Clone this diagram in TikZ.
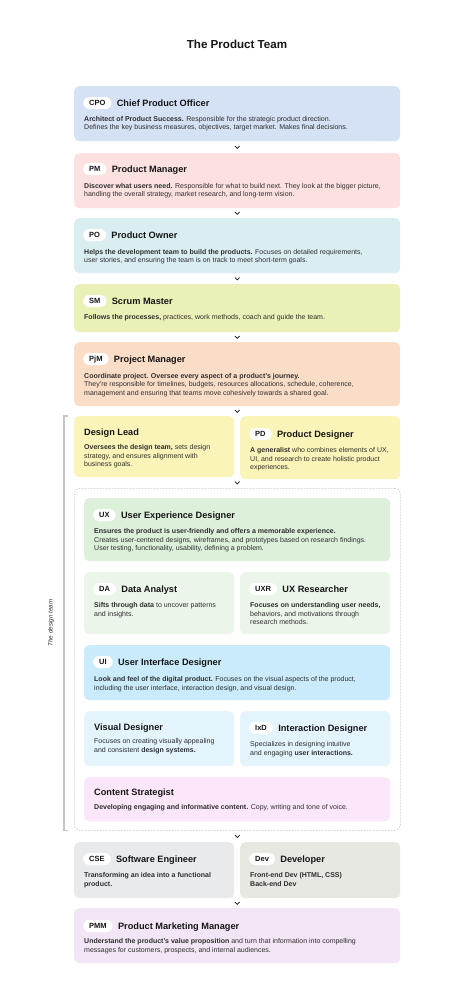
\documentclass[tikz,border=0pt]{standalone}
\usepackage{fontspec}
\setmainfont{Liberation Sans}
\usetikzlibrary{positioning,calc}

\definecolor{cpofill}{HTML}{D5E1F5}
\definecolor{pmfill}{HTML}{FDE1E1}
\definecolor{pofill}{HTML}{DAEDF1}
\definecolor{smfill}{HTML}{EBF0B6}
\definecolor{pjmfill}{HTML}{FADDC7}
\definecolor{dlfill}{HTML}{FBF4B8}
\definecolor{uxfill}{HTML}{DCF0DA}
\definecolor{dafill}{HTML}{EBF5EA}
\definecolor{uifill}{HTML}{C9EBFB}
\definecolor{vdfill}{HTML}{E3F4FC}
\definecolor{csfill}{HTML}{FCE7FA}
\definecolor{csefill}{HTML}{E9EAEC}
\definecolor{devfill}{HTML}{E6E8E1}
\definecolor{pmmfill}{HTML}{F2E6F6}
\definecolor{inkdark}{HTML}{161616}
\definecolor{inksoft}{HTML}{2E2E2E}
\definecolor{rulegray}{HTML}{C4C4C4}

\tikzset{
  card/.style={rounded corners=5pt, anchor=north west, inner sep=0pt, minimum width=#1},
  tag/.style={fill=white, rounded corners=6pt, font=\bfseries\fontsize{7.5}{9}\selectfont, text=inkdark,
    inner xsep=6pt, inner ysep=3.3pt, text height=5.4pt, text depth=0pt},
  heading/.style={font=\bfseries\fontsize{9.2}{11}\selectfont, text=inkdark, inner sep=0pt,
    text height=6.6pt, text depth=0pt},
  blurb/.style={anchor=north west, align=left, inner sep=0pt, font=\fontsize{7}{8.4}\selectfont, text=inksoft},
  chev/.pic={\draw[line width=0.7pt, inkdark] (-2.4,-1.2) -- (0,1.2) -- (2.4,-1.2);}
}

\begin{document}
\begin{tikzpicture}[x=1pt,y=-1pt]
	\fill[white] (0,0) rectangle (474,1001);
	\useasboundingbox (0,0) rectangle (474,1001);
	\node[font=\bfseries\fontsize{11.6}{14}\selectfont, text=inkdark] (head) at (237,44) {The Product Team};

	% chief product officer
	\node[card=326pt, minimum height=55pt, fill=cpofill] (cpo) at (74,86) {};
	\node[tag, anchor=west] (cpotag) at ([xshift=9pt,yshift=-17pt]cpo.north west) {CPO};
	\node[heading, right=5pt of cpotag] (cpottl) {Chief Product Officer};
	\node[blurb] (cpotxt) at ([xshift=10pt,yshift=-30pt]cpo.north west) {\textbf{Architect of Product Success.} Responsible for the strategic product direction.\\Defines the key business measures, objectives, target market. Makes final decisions.};

	% product manager
	\node[card=326pt, minimum height=55pt, fill=pmfill] (pm) at (74,153) {};
	\node[tag, anchor=west] (pmtag) at ([xshift=9pt,yshift=-16pt]pm.north west) {PM};
	\node[heading, right=5pt of pmtag] (pmttl) {Product Manager};
	\node[blurb] (pmtxt) at ([xshift=10pt,yshift=-30pt]pm.north west) {\textbf{Discover what users need.} Responsible for what to build next. They look at the bigger picture,\\handling the overall strategy, market research, and long-term vision.};

	% product owner
	\node[card=326pt, minimum height=55pt, fill=pofill] (po) at (74,218) {};
	\node[tag, anchor=west] (potag) at ([xshift=9pt,yshift=-17pt]po.north west) {PO};
	\node[heading, right=5pt of potag] (pottl) {Product Owner};
	\node[blurb] (potxt) at ([xshift=10pt,yshift=-31pt]po.north west) {\textbf{Helps the development team to build the products.} Focuses on detailed requirements,\\user stories, and ensuring the team is on track to meet short-term goals.};

	% scrum master
	\node[card=326pt, minimum height=48pt, fill=smfill] (sm) at (74,284) {};
	\node[tag, anchor=west] (smtag) at ([xshift=9pt,yshift=-17pt]sm.north west) {SM};
	\node[heading, right=5pt of smtag] (smttl) {Scrum Master};
	\node[blurb] (smtxt) at ([xshift=10pt,yshift=-30.5pt]sm.north west) {\textbf{Follows the processes,} practices, work methods, coach and guide the team.};

	% project manager
	\node[card=326pt, minimum height=64pt, fill=pjmfill] (pjm) at (74,342) {};
	\node[tag, anchor=west] (pjmtag) at ([xshift=9pt,yshift=-17pt]pjm.north west) {PjM};
	\node[heading, right=5pt of pjmtag] (pjmttl) {Project Manager};
	\node[blurb] (pjmtxt) at ([xshift=10pt,yshift=-31pt]pjm.north west) {\textbf{Coordinate project. Oversee every aspect of a product's journey.}\\They're responsible for timelines, budgets, resources allocations, schedule, coherence,\\management and ensuring that teams move cohesively towards a shared goal.};

	% design lead / product designer
	\node[card=160pt, minimum height=61pt, fill=dlfill] (dl) at (74,416) {};
	\node[heading, anchor=west] (dlttl) at ([xshift=10pt,yshift=-16pt]dl.north west) {Design Lead};
	\node[blurb] (dltxt) at ([xshift=10pt,yshift=-28.5pt]dl.north west) {\textbf{Oversees the design team,} sets design\\strategy, and ensures alignment with\\business goals.};
	\node[card=160pt, minimum height=63pt, fill=dlfill] (pd) at (240,416) {};
	\node[tag, anchor=west] (pdtag) at ([xshift=9pt,yshift=-18pt]pd.north west) {PD};
	\node[heading, right=5pt of pdtag] (pdttl) {Product Designer};
	\node[blurb] (pdtxt) at ([xshift=10pt,yshift=-31.5pt]pd.north west) {\textbf{A generalist} who combines elements of UX,\\UI, and research to create holistic product\\experiences.};

	% the design team
	\node[card=326pt, minimum height=342pt, draw=rulegray, dash pattern=on 1.6pt off 1.4pt, line width=0.6pt] (team) at (74,488) {};
	\draw[rulegray, line width=1.1pt] ([xshift=-6pt]dl.north west) -| ([xshift=-10pt]team.south west) -- ++(4,0);
	\node[rotate=90, font=\itshape\fontsize{6.3}{7}\selectfont, text=inksoft] (teamnote) at (51,623) {The design team};

	\node[card=306pt, minimum height=63pt, fill=uxfill] (ux) at (84,498) {};
	\node[tag, anchor=west] (uxtag) at ([xshift=9pt,yshift=-17pt]ux.north west) {UX};
	\node[heading, right=5pt of uxtag] (uxttl) {User Experience Designer};
	\node[blurb] (uxtxt) at ([xshift=10pt,yshift=-30.5pt]ux.north west) {\textbf{Ensures the product is user-friendly and offers a memorable experience.}\\Creates user-centered designs, wireframes, and prototypes based on research findings.\\User testing, functionality, usability, defining a problem.};

	\node[card=150pt, minimum height=62pt, fill=dafill] (da) at (84,572) {};
	\node[tag, anchor=west] (datag) at ([xshift=9pt,yshift=-17pt]da.north west) {DA};
	\node[heading, right=5pt of datag] (dattl) {Data Analyst};
	\node[blurb] (datxt) at ([xshift=10pt,yshift=-30.5pt]da.north west) {\textbf{Sifts through data} to uncover patterns\\and insights.};
	\node[card=150pt, minimum height=62pt, fill=dafill] (uxr) at (240,572) {};
	\node[tag, anchor=west] (uxrtag) at ([xshift=9pt,yshift=-17pt]uxr.north west) {UXR};
	\node[heading, right=5pt of uxrtag] (uxrttl) {UX Researcher};
	\node[blurb] (uxrtxt) at ([xshift=10pt,yshift=-30.5pt]uxr.north west) {\textbf{Focuses on understanding user needs,}\\behaviors, and motivations through\\research methods.};

	\node[card=306pt, minimum height=55pt, fill=uifill] (ui) at (84,645) {};
	\node[tag, anchor=west] (uitag) at ([xshift=9pt,yshift=-17pt]ui.north west) {UI};
	\node[heading, right=5pt of uitag] (uittl) {User Interface Designer};
	\node[blurb] (uitxt) at ([xshift=10pt,yshift=-31.5pt]ui.north west) {\textbf{Look and feel of the digital product.} Focuses on the visual aspects of the product,\\including the user interface, interaction design, and visual design.};

	\node[card=150pt, minimum height=55pt, fill=vdfill] (vd) at (84,711) {};
	\node[heading, anchor=west] (vdttl) at ([xshift=10pt,yshift=-16pt]vd.north west) {Visual Designer};
	\node[blurb] (vdtxt) at ([xshift=10pt,yshift=-27.5pt]vd.north west) {Focuses on creating visually appealing\\and consistent \textbf{design systems.}};
	\node[card=150pt, minimum height=55pt, fill=vdfill] (ixd) at (240,711) {};
	\node[tag, anchor=west] (ixdtag) at ([xshift=9pt,yshift=-17pt]ixd.north west) {IxD};
	\node[heading, right=5pt of ixdtag] (ixdttl) {Interaction Designer};
	\node[blurb] (ixdtxt) at ([xshift=10pt,yshift=-30.5pt]ixd.north west) {Specializes in designing intuitive\\and engaging \textbf{user interactions.}};

	\node[card=306pt, minimum height=44pt, fill=csfill] (cs) at (84,777) {};
	\node[heading, anchor=west] (csttl) at ([xshift=10pt,yshift=-15pt]cs.north west) {Content Strategist};
	\node[blurb] (cstxt) at ([xshift=10pt,yshift=-27.5pt]cs.north west) {\textbf{Developing engaging and informative content.} Copy, writing and tone of voice.};

	% engineering
	\node[card=160pt, minimum height=56pt, fill=csefill] (cse) at (74,842) {};
	\node[tag, anchor=west] (csetag) at ([xshift=9pt,yshift=-17pt]cse.north west) {CSE};
	\node[heading, right=5pt of csetag] (csettl) {Software Engineer};
	\node[blurb] (csetxt) at ([xshift=10pt,yshift=-30.5pt]cse.north west) {\textbf{Transforming an idea into a functional}\\\textbf{product.}};
	\node[card=160pt, minimum height=56pt, fill=devfill] (dev) at (240,842) {};
	\node[tag, anchor=west] (devtag) at ([xshift=9pt,yshift=-17pt]dev.north west) {Dev};
	\node[heading, right=5pt of devtag] (devttl) {Developer};
	\node[blurb] (devtxt) at ([xshift=10pt,yshift=-30.5pt]dev.north west) {\textbf{Front-end Dev (HTML, CSS)}\\\textbf{Back-end Dev}};

	% product marketing manager
	\node[card=326pt, minimum height=55pt, fill=pmmfill] (pmm) at (74,908) {};
	\node[tag, anchor=west] (pmmtag) at ([xshift=9pt,yshift=-18pt]pmm.north west) {PMM};
	\node[heading, right=5pt of pmmtag] (pmmttl) {Product Marketing Manager};
	\node[blurb] (pmmtxt) at ([xshift=10pt,yshift=-30.5pt]pmm.north west) {\textbf{Understand the product's value proposition} and turn that information into compelling\\messages for customers, prospects, and internal audiences.};

	% chevrons between the steps
	\pic at ($(cpo.south)!.5!(pm.north)$) {chev};
	\pic at ($(pm.south)!.5!(po.north)$) {chev};
	\pic at ($(po.south)!.5!(sm.north)$) {chev};
	\pic at ($(sm.south)!.5!(pjm.north)$) {chev};
	\pic at ($(pjm.south)!.5!(pjm.south |- dl.north)$) {chev};
	\pic at ($(team.north)!.5!(team.north |- dl.south)$) {chev};
	\pic at ($(team.south)!.5!(team.south |- cse.north)$) {chev};
	\pic at ($(pmm.north)!.5!(pmm.north |- cse.south)$) {chev};
\end{tikzpicture}
\end{document}
